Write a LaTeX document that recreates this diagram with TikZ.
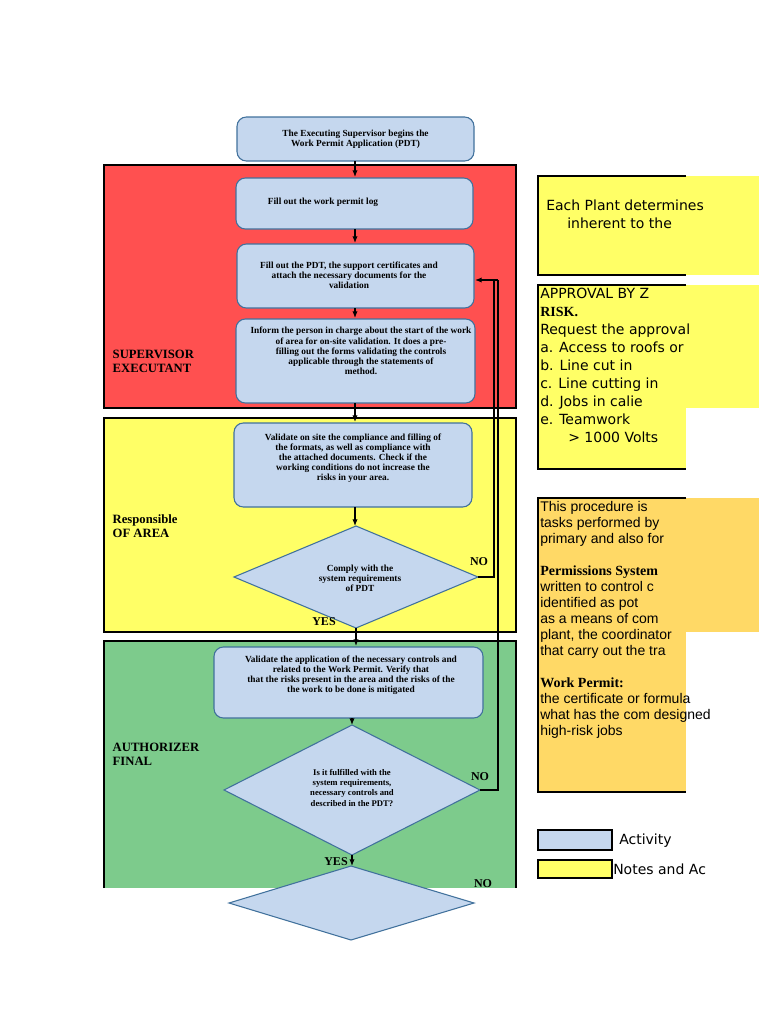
\documentclass[tikz,border=0pt]{standalone}
\usepackage{fontspec}
\setmainfont{Liberation Serif}
\newfontfamily\dejavu{DejaVu Sans}
\newfontfamily\arial{Liberation Sans}
\usetikzlibrary{shapes.geometric,arrows.meta}
\definecolor{rband}{HTML}{FF5050}
\definecolor{yband}{HTML}{FFFF66}
\definecolor{gband}{HTML}{7DCB8C}
\definecolor{act}{HTML}{C5D7EE}
\definecolor{actb}{HTML}{41719C}
\definecolor{orng}{HTML}{FFD966}
\begin{document}
\begin{tikzpicture}[x=0.75pt,y=-0.75pt,
  band/.style={draw=black,line width=1.5pt},
  box/.style={draw=actb,fill=act,rounded corners=7pt,line width=0.8pt},
  btxt/.style={font=\bfseries\fontsize{7}{7.6}\selectfont,align=center},
  lane/.style={font=\bfseries\fontsize{9.5}{10.5}\selectfont,align=left,anchor=west},
  lbl/.style={font=\bfseries\fontsize{9}{10}\selectfont},
  arr/.style={-{Latex[length=5pt,width=4pt]},line width=0.9pt},
  ln/.style={line width=1.2pt},
  dia/.style={draw=actb,fill=act,line width=0.8pt},
  note/.style={font=\dejavu\fontsize{10.5}{13.5}\selectfont,align=left,anchor=north west,inner sep=0pt}]
\useasboundingbox (0,0) rectangle (768,1024);
% bands
\fill[rband] (104,165) rectangle (516,408);
\draw[band] (104,165) rectangle (516,408);
\fill[yband] (104,418) rectangle (516,632);
\draw[band] (104,418) rectangle (516,632);
\fill[gband] (104,641) rectangle (516,888);
\draw[band] (104,888) -- (104,641) -- (516,641) -- (516,888);
\node[lane] (l1) at (108,361) {SUPERVISOR\\EXECUTANT};
\node[lane] (l2) at (108,526) {Responsible\\OF AREA};
\node[lane] (l3) at (108,754) {AUTHORIZER\\FINAL};
% boxes
\draw[box] (237,117) rectangle (474,161);
\node[btxt] (b0) at (355.5,139) {The Executing Supervisor begins the\\Work Permit Application (PDT)};
\draw[box] (236,178) rectangle (473,229);
\node[btxt] (b1) at (323,202) {Fill out the work permit log};
\draw[box] (237,244) rectangle (474,308);
\node[btxt] (b2) at (349,275) {Fill out the PDT, the support certificates and\\attach the necessary documents for the\\validation};
\draw[box] (236,319) rectangle (475,403);
\node[btxt] (b3) at (361,351) {Inform the person in charge about the start of the work\\of area for on-site validation. It does a pre-\\filling out the forms validating the controls\\applicable through the statements of\\method.};
\draw[box] (234,423) rectangle (472,507);
\node[btxt] (b4) at (353,458) {Validate on site the compliance and filling of\\the formats, as well as compliance with\\the attached documents. Check if the\\working conditions do not increase the\\risks in your area.};
\draw[box] (214,647) rectangle (483,718);
\node[btxt] (b5) at (351,675) {Validate the application of the necessary controls and\\related to the Work Permit. Verify that\\that the risks present in the area and the risks of the\\the work to be done is mitigated};
\draw[dia] (234,577) -- (356,526) -- (478,577) -- (356,628) -- cycle;
\node[btxt] (d1) at (360,578) {Comply with the\\system requirements\\of PDT};
\draw[dia] (224,790) -- (352,725) -- (480,790) -- (352,855) -- cycle;
\node[btxt,font=\bfseries\fontsize{6.5}{7.5}\selectfont] (d2) at (352,788) {Is it fulfilled with the\\system requirements,\\necessary controls and\\described in the PDT?};
\draw[dia] (229,903) -- (351,866) -- (474,903) -- (351,940) -- cycle;
\coordinate (d3) at (351,866);
% connectors
\draw[arr] (355,161) -- (355,177);
\draw[arr] (355,229) -- (355,243);
\draw[arr] (355,308) -- (355,318);
\draw[arr] (355,403) -- (355,422);
\draw[arr] (355,507) -- (355,526);
\draw[arr] (356,628) -- (356,646);
\draw[arr] (352,718) -- (352,725);
\draw[arr] (352,855) -- (352,866);
\draw[ln] (478,577) -- (494,577) -- (494,280);
\draw[ln] (480,790) -- (498,790) -- (498,280);
\draw[arr] (498,280) -- (475,280);
\node[lbl] (no1) at (479,562) {NO};
\node[lbl] (yes1) at (324,622) {YES};
\node[lbl] (no2) at (480,777) {NO};
\node[lbl] (yes2) at (336,862) {YES};
\node[lbl] (no3) at (483,884) {NO};
% notes
\fill[yband] (538,176) rectangle (759,275);
\draw[band] (686,176) -- (538,176) -- (538,275) -- (686,275);
\node[note] (n1) at (546,200) {Each Plant determines\\\hspace*{1.5em}inherent to the};
\fill[yband] (538,285) rectangle (759,408);
\fill[yband] (538,408) rectangle (686,469);
\draw[band] (686,285) -- (538,285) -- (538,469) -- (686,469);
\node[note] (n2) at (540,288) {APPROVAL BY Z\\{\rmfamily\bfseries RISK.}\\Request the approval\\a. Access to roofs or\\b. Line cut in\\c. Line cutting in\\d. Jobs in calie\\e. Teamwork\\\hspace*{2em}> 1000 Volts};
\fill[orng] (538,498) rectangle (759,632);
\fill[orng] (538,632) rectangle (686,792);
\draw[band] (686,498) -- (538,498) -- (538,792) -- (686,792);
\node[note,font=\arial\fontsize{10.5}{12}\selectfont] (n3) at (540,501) {This procedure is\\tasks performed by\\primary and also for\\[12pt]{\rmfamily\bfseries Permissions System}\\written to control c\\identified as pot\\as a means of com\\plant, the coordinator\\that carry out the tra\\[12pt]{\rmfamily\bfseries Work Permit:}\\the certificate or formula\\what has the com designed\\high-risk jobs};
% legend
\draw[line width=1.3pt,fill=act] (538,830) rectangle (612,850);
\node[note,anchor=west] (la) at (619,841) {Activity};
\draw[line width=1.3pt,fill=yband] (538,860) rectangle (612,878);
\node[note,anchor=west] (ln) at (613,869) {Notes and Ac};
\end{tikzpicture}
\end{document}
